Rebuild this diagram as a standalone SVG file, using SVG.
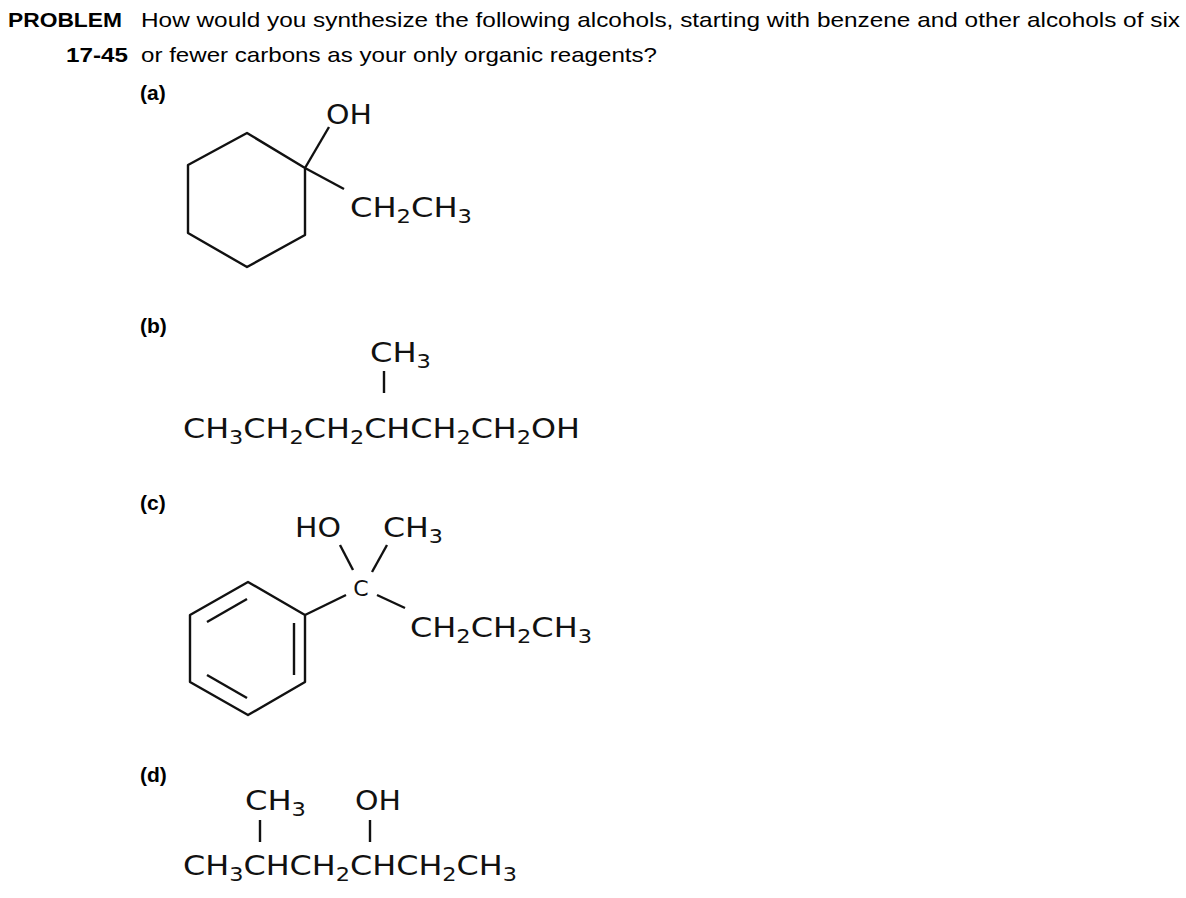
<svg xmlns="http://www.w3.org/2000/svg" width="1186" height="898" viewBox="0 0 1186 898">
<style>
.h{font-family:"Liberation Sans",Arial,sans-serif;font-size:21px;fill:#000}
.b{font-weight:bold}
.c{font-family:"DejaVu Sans","Noto Sans",sans-serif;font-size:27px;fill:#111}
.s{font-size:19px}
.l{stroke:#111;stroke-width:2.4;fill:none;stroke-linejoin:round}
</style>
<rect width="1186" height="898" fill="#fff"/>
<g id="header">
<text class="h b" x="8" y="27" textLength="114" lengthAdjust="spacingAndGlyphs">PROBLEM</text>
<text class="h" x="141" y="27" textLength="1039" lengthAdjust="spacingAndGlyphs">How would you synthesize the following alcohols, starting with benzene and other alcohols of six</text>
<text class="h b" x="66" y="62" textLength="62" lengthAdjust="spacingAndGlyphs">17-45</text>
<text class="h" x="141" y="62" textLength="516" lengthAdjust="spacingAndGlyphs">or fewer carbons as your only organic reagents?</text>
</g>
<g id="a">
<text class="h b" x="140" y="100">(a)</text>
<polygon class="l" points="247,133 305,168 305,235 247,267 188,233 188,165"/>
<line class="l" x1="305" y1="168" x2="329" y2="127"/>
<line class="l" x1="305" y1="168" x2="344" y2="189"/>
<text class="c" x="326" y="124" textLength="46" lengthAdjust="spacingAndGlyphs">OH</text>
<text class="c" x="350" y="217" textLength="122" lengthAdjust="spacingAndGlyphs">CH<tspan class="s" dy="6">2</tspan><tspan dy="-6">CH</tspan><tspan class="s" dy="6">3</tspan></text>
</g>
<g id="b">
<text class="h b" x="140" y="333">(b)</text>
<text class="c" x="370" y="362" textLength="61" lengthAdjust="spacingAndGlyphs">CH<tspan class="s" dy="6">3</tspan></text>
<line class="l" x1="384" y1="371" x2="384" y2="393"/>
<text class="c" x="183" y="438" textLength="397" lengthAdjust="spacingAndGlyphs">CH<tspan class="s" dy="6">3</tspan><tspan dy="-6">CH</tspan><tspan class="s" dy="6">2</tspan><tspan dy="-6">CH</tspan><tspan class="s" dy="6">2</tspan><tspan dy="-6">CHCH</tspan><tspan class="s" dy="6">2</tspan><tspan dy="-6">CH</tspan><tspan class="s" dy="6">2</tspan><tspan dy="-6">OH</tspan></text>
</g>
<g id="c">
<text class="h b" x="140" y="510">(c)</text>
<polygon class="l" points="248,582 305,615 305,682 248,715 190,682 190,615"/>
<line class="l" x1="207" y1="622" x2="247" y2="599"/>
<line class="l" x1="294" y1="623" x2="294" y2="675"/>
<line class="l" x1="207" y1="675" x2="247" y2="698"/>
<line class="l" x1="305" y1="615" x2="346" y2="595"/>
<line class="l" x1="340" y1="545" x2="353" y2="570"/>
<line class="l" x1="387" y1="545" x2="372" y2="572"/>
<line class="l" x1="377" y1="595" x2="405" y2="608"/>
<text class="c" x="361" y="596" text-anchor="middle" style="font-size:22px">C</text>
<text class="c" x="295" y="537" textLength="46" lengthAdjust="spacingAndGlyphs">HO</text>
<text class="c" x="383" y="537" textLength="60" lengthAdjust="spacingAndGlyphs">CH<tspan class="s" dy="6">3</tspan></text>
<text class="c" x="410" y="637" textLength="182" lengthAdjust="spacingAndGlyphs">CH<tspan class="s" dy="6">2</tspan><tspan dy="-6">CH</tspan><tspan class="s" dy="6">2</tspan><tspan dy="-6">CH</tspan><tspan class="s" dy="6">3</tspan></text>
</g>
<g id="d">
<text class="h b" x="140" y="782">(d)</text>
<text class="c" x="245" y="810" textLength="61" lengthAdjust="spacingAndGlyphs">CH<tspan class="s" dy="6">3</tspan></text>
<text class="c" x="355" y="810" textLength="46" lengthAdjust="spacingAndGlyphs">OH</text>
<line class="l" x1="260" y1="820" x2="260" y2="842"/>
<line class="l" x1="370" y1="820" x2="370" y2="842"/>
<text class="c" x="183" y="875" textLength="334" lengthAdjust="spacingAndGlyphs">CH<tspan class="s" dy="6">3</tspan><tspan dy="-6">CHCH</tspan><tspan class="s" dy="6">2</tspan><tspan dy="-6">CHCH</tspan><tspan class="s" dy="6">2</tspan><tspan dy="-6">CH</tspan><tspan class="s" dy="6">3</tspan></text>
</g>
</svg>
